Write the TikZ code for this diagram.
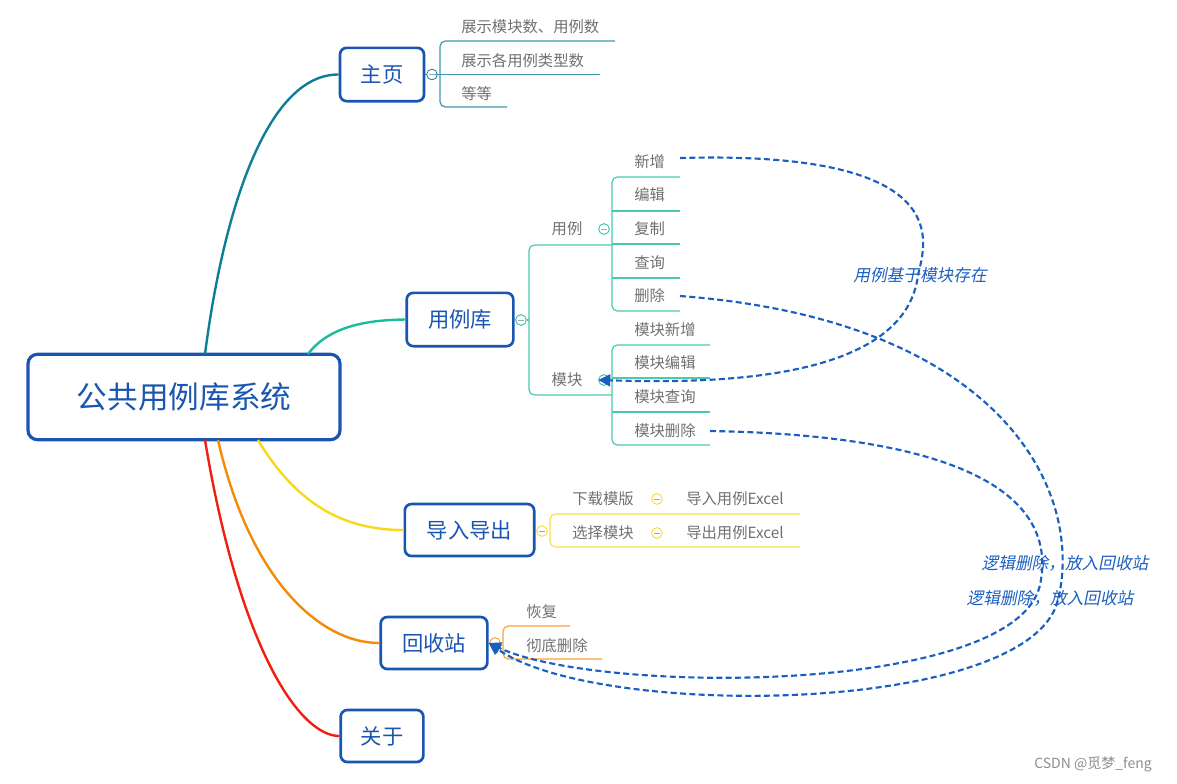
\documentclass[tikz,border=0pt]{standalone}
\usepackage{fontspec}
\setmainfont{Noto Sans CJK SC}
\newfontfamily\cjkit[FakeSlant=0.2]{Noto Sans CJK SC}
\usetikzlibrary{arrows.meta}
\definecolor{bb}{HTML}{1A56B0}
\definecolor{dl}{HTML}{1A5FBF}
\definecolor{gt}{HTML}{707070}
\definecolor{cT}{HTML}{0E7E96}
\definecolor{cG}{HTML}{1ABC9C}
\definecolor{cY}{HTML}{F7D81A}
\definecolor{cO}{HTML}{F58A07}
\definecolor{cR}{HTML}{F02010}
\tikzset{
 topic/.style={draw=bb,line width=2pt,rounded corners=5pt,text=bb,font=\fontsize{16}{18}\selectfont,inner sep=0pt},
 leaf/.style={text=gt,font=\fontsize{11.5}{13}\selectfont,inner sep=0pt},
 col/.style={circle,draw=#1,fill=white,inner sep=0pt,minimum size=8pt,line width=0.6pt,
   path picture={\draw[gray!70,line width=0.6pt] ([xshift=-2pt]path picture bounding box.center)--([xshift=2pt]path picture bounding box.center);}},
 br/.style={draw=#1,line width=0.9pt,rounded corners=4pt},
 dsh/.style={dl,line width=1.6pt,dash pattern=on 4.5pt off 2.5pt},
 lbl/.style={text=dl,font=\cjkit\fontsize{12.5}{14}\selectfont,inner sep=1pt}
}
\begin{document}
\begin{tikzpicture}[x=0.75pt,y=-0.75pt]
\useasboundingbox (0,0) rectangle (1177,783);
% main
\node[topic,line width=2.4pt,rounded corners=7pt,minimum width=234pt,minimum height=64pt,font=\fontsize{23}{26}\selectfont] (m) at (184,397) {公共用例库系统};
\node[topic,minimum width=63pt,minimum height=40pt] (zy) at (382,74.5) {主页};
\node[topic,minimum width=80pt,minimum height=40pt] (yl) at (460,319.5) {用例库};
\node[topic,minimum width=97pt,minimum height=39pt] (dr) at (469.5,530) {导入导出};
\node[topic,minimum width=80pt,minimum height=39pt] (hs) at (434,643) {回收站};
\node[topic,minimum width=62pt,minimum height=39pt] (gy) at (382,736) {关于};
% branches
\draw[cT,line width=1.8pt] (205,354) .. controls (225,200) and (270,74) .. (zy.west);
\draw[cG,line width=1.8pt] (308,354) .. controls (330,325) and (370,320) .. (yl.west);
\draw[cY,line width=1.8pt] (258,440) .. controls (300,510) and (350,530) .. (dr.west);
\draw[cO,line width=1.8pt] (218,440) .. controls (250,580) and (320,643) .. (hs.west);
\draw[cR,line width=1.8pt] (205,440) .. controls (240,650) and (300,736) .. (gy.west);
% 主页 children
\node[col=cT] (c1) at (432,74.5) {};
\draw[cT,line width=0.6pt] (zy.east)--(c1);
\node[leaf,anchor=west] (z1) at (461,27) {展示模块数、用例数};
\node[leaf,anchor=west] (z2) at (461,61) {展示各用例类型数};
\node[leaf,anchor=west] (z3) at (461,94) {等等};
\draw[br=cT!80] (615,41)--(440,41)--(440,107)--(507,107);
\draw[br=cT!80] (c1.east)--(440,74.5)--(600,74.5);
% 用例库 children
\node[col=cG] (c2) at (521,320) {};
\draw[cG,line width=0.6pt] (yl.east)--(c2);
\draw[br=cG!80] (612,245)--(529,245)--(529,395)--(612,395);
\draw[cG!80,line width=0.9pt] (c2.east)--(529,320);
\node[leaf] (yli) at (567,229) {用例};
\node[leaf] (mk) at (567,380) {模块};
\node[col=cG] (c3) at (604,229) {};
\node[col=cG] (c4) at (604,380) {};
\draw[br=cG!80] (680,177)--(612,177)--(612,311)--(680,311);
\foreach \y in {211,244,278} \draw[cG!80,line width=0.9pt] (612,\y)--(680,\y);
\foreach \t/\y [count=\i] in {新增/162,编辑/195,复制/229,查询/263,删除/296}
  \node[leaf,anchor=west] (a\i) at (634,\y) {\t};
\draw[br=cG!80] (710,345)--(612,345)--(612,445)--(710,445);
\foreach \y in {378,412} \draw[cG!80,line width=0.9pt] (612,\y)--(710,\y);
\foreach \t/\y [count=\i] in {模块新增/330,模块编辑/363,模块查询/397,模块删除/431}
  \node[leaf,anchor=west] (b\i) at (634,\y) {\t};
% 导入导出 children
\node[col=cY] (c5) at (542,531) {};
\draw[cY,line width=0.6pt] (dr.east)--(c5);
\draw[br=cY!80] (800,514)--(550,514)--(550,547)--(800,547);
\node[leaf] (d1) at (603,499) {下载模版};
\node[leaf] (d2) at (603,533) {选择模块};
\node[col=cY] (c6) at (657,499) {};
\node[col=cY] (c7) at (657,533) {};
\node[leaf,anchor=west] (e1) at (686,499) {导入用例Excel};
\node[leaf,anchor=west] (e2) at (686,533) {导出用例Excel};
% 回收站 children
\node[col=cO] (c8) at (495,643) {};
\draw[cO,line width=0.6pt] (hs.east)--(c8);
\draw[br=cO!80] (570,626)--(503,626)--(503,659)--(602,659);
\node[leaf,anchor=west] (h1) at (526,612) {恢复};
\node[leaf,anchor=west] (h2) at (526,646) {彻底删除};
% dashed relations
\coordinate (p1) at (680,158);
\draw[dsh,-{Triangle[length=9pt,width=9pt]}] (p1) .. controls (960,150) and (925,245) .. (918,275) .. controls (905,385) and (700,383) .. (c4.west);
\node[lbl] (l1) at (920,275) {用例基于模块存在};
\coordinate (p2) at (680,296);
\draw[dsh,-{Triangle[length=9pt,width=9pt]}] (p2) .. controls (1000,320) and (1085,490) .. (1058,600) .. controls (1030,715) and (600,720) .. (hs.east);
\coordinate (p3) at (710,431);
\draw[dsh,-{Triangle[length=9pt,width=9pt]}] (p3) .. controls (950,435) and (1060,490) .. (1040,585) .. controls (1015,695) and (600,695) .. (hs.east);
\node[lbl] (l2) at (1065,563) {逻辑删除，放入回收站};
\node[lbl] (l3) at (1050,598) {逻辑删除，放入回收站};
\node[text=gt!80,font=\fontsize{10.5}{12}\selectfont] (wm) at (1093,764) {CSDN @觅梦\_feng};
\end{tikzpicture}
\end{document}
